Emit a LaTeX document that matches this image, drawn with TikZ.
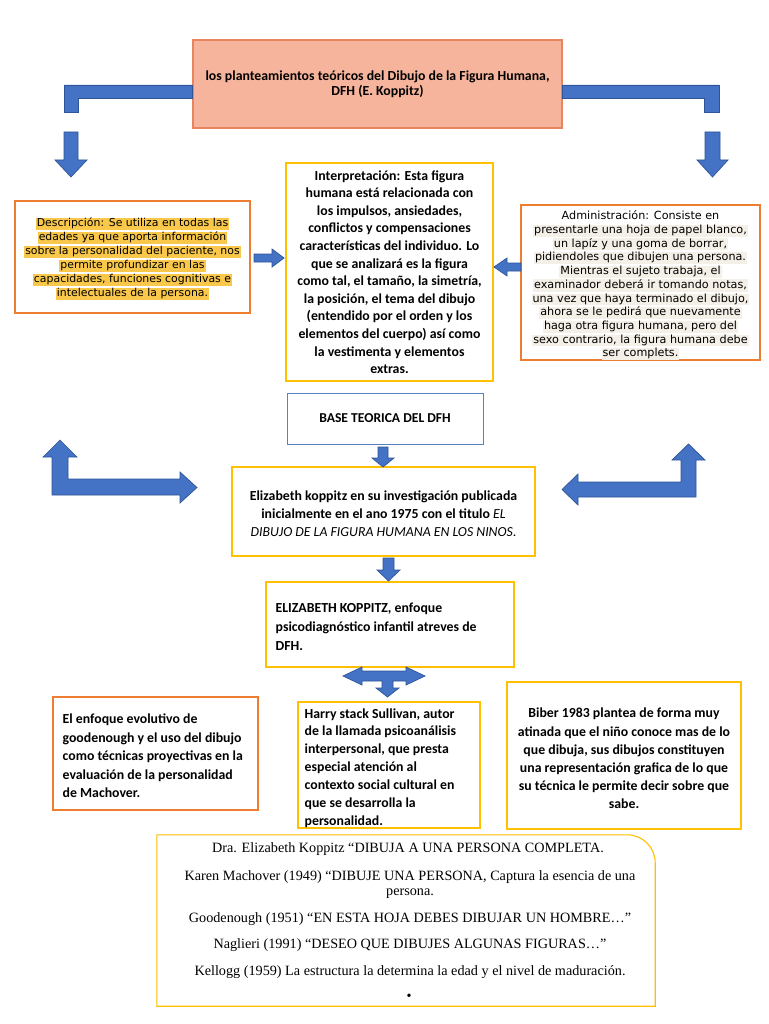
\documentclass[tikz,border=0pt]{standalone}
\usepackage{fontspec}
\setmainfont{Carlito}
\newfontfamily\verd{DejaVu Sans}
\newfontfamily\tnr{Liberation Serif}
\usetikzlibrary{calc}
\definecolor{ablue}{HTML}{4472C4}
\definecolor{aedge}{HTML}{2F5597}
\definecolor{goldc}{HTML}{FFC000}
\definecolor{orng}{HTML}{ED7D31}
\definecolor{salmon}{HTML}{F5B49B}
\definecolor{salmonedge}{HTML}{E8855E}
\definecolor{hlgold}{HTML}{F9C84A}
\definecolor{hlbeige}{HTML}{F4EFE7}
\definecolor{baseblue}{HTML}{5B7FC4}
\newcommand\hlg[1]{{\setlength\fboxsep{0pt}\colorbox{hlgold}{\hspace{1pt}\rule[-3.2pt]{0pt}{10.6pt}#1\hspace{1pt}}}}
\newcommand\hlb[1]{{\setlength\fboxsep{0pt}\colorbox{hlbeige}{\hspace{1pt}\rule[-3.2pt]{0pt}{10.4pt}#1\hspace{1pt}}}}
\begin{document}
\begin{tikzpicture}[x=1pt,y=-1pt,
  box/.style={rectangle, inner sep=0pt, line width=1.1pt, align=center},
  gbox/.style={box, draw=goldc},
  obox/.style={box, draw=orng},
  calbold/.style={font={\fontsize{13.8}{18}\selectfont\bfseries}},
  verdfont/.style={font={\verd\fontsize{10.9}{14}\selectfont}},
  barrow/.style={fill=ablue, draw=aedge, line width=0.7pt, line join=miter},
  btext/.style={inner sep=0pt, font={\tnr\fontsize{14.2}{16}\selectfont}, align=center}]
\useasboundingbox (0,0) rectangle (768,1024);
\fill[white] (0,0) rectangle (768,1024);

% title
\node[box, draw=salmonedge, fill=salmon, minimum width=369pt, minimum height=88pt,
  font={\fontsize{13.8}{15}\selectfont\bfseries}] (title) at (377.5,84)
  {los planteamientos teóricos del Dibujo de la Figura Humana,\\ DFH (E. Koppitz)};

% description
\node[obox, minimum width=235pt, minimum height=112pt, verdfont] (desc) at (132.5,257) {};
\node[inner sep=0pt, align=center, verdfont] (desct) at (132.5,259)
  {\hlg{Descripción: Se utiliza en todas las}\\
   \hlg{edades ya que aporta información}\\
   \hlg{sobre la personalidad del paciente, nos}\\
   \hlg{permite profundizar en las}\\
   \hlg{capacidades, funciones cognitivas e}\\
   \hlg{intelectuales de la persona.}};

% interpretation
\node[gbox, minimum width=207pt, minimum height=218pt, font={\fontsize{13.8}{17.6}\selectfont\bfseries}] (interp) at (389.5,272)
  {Interpretación: Esta figura\\
   humana está relacionada con\\
   los impulsos, ansiedades,\\
   conflictos y compensaciones\\
   características del individuo. Lo\\
   que se analizará es la figura\\
   como tal, el tamaño, la simetría,\\
   la posición, el tema del dibujo\\
   (entendido por el orden y los\\
   elementos del cuerpo) así como\\
   la vestimenta y elementos\\
   extras.};

% administration
\node[obox, minimum width=239pt, minimum height=155pt] (admin) at (640.5,282.5) {};
\node[inner sep=0pt, align=center, font={\verd\fontsize{11.2}{13.7}\selectfont}] (admint) at (640.5,285.5)
  {Administración: Consiste en\\
   \hlb{presentarle una hoja de papel blanco,}\\
   \hlb{un lapíz y una goma de borrar,}\\
   \hlb{pidiendoles que dibujen una persona.}\\
   \hlb{Mientras el sujeto trabaja, el}\\
   \hlb{examinador deberá ir tomando notas,}\\
   \hlb{una vez que haya terminado el dibujo,}\\
   \hlb{ahora se le pedirá que nuevamente}\\
   \hlb{haga otra figura humana, pero del}\\
   \hlb{sexo contrario, la figura humana debe}\\
   \hlb{ser complets.}};

% base teorica
\node[box, draw=baseblue, line width=0.9pt, minimum width=196pt, minimum height=51pt,
  font={\fontsize{13.6}{16}\selectfont\bfseries}] (base) at (385,418.5) {BASE TEORICA DEL DFH};

% Elizabeth
\node[gbox, minimum width=303pt, minimum height=89pt] (eliz) at (383.5,511.5) {};
\node[inner sep=0pt, align=center, calbold] (elizt) at (383.5,514)
  {Elizabeth koppitz en su investigación publicada\\
   inicialmente en el ano 1975 con el titulo {\mdseries\itshape EL}\\
   {\mdseries\itshape DIBUJO DE LA FIGURA HUMANA EN LOS NINOS}{\mdseries .}};

% Koppitz enfoque
\node[gbox, minimum width=248pt, minimum height=85pt] (ek) at (390,624.5) {};
\node[inner sep=0pt, anchor=west, align=left, font={\fontsize{13.8}{19}\selectfont\bfseries}] (ekt) at ([xshift=10pt,yshift=-2pt]ek.west)
  {ELIZABETH KOPPITZ, enfoque\\
   psicodiagnóstico infantil atreves de\\
   DFH.};

% Goodenough
\node[obox, minimum width=205pt, minimum height=113pt] (good) at (155.5,753.5) {};
\node[inner sep=0pt, anchor=west, align=left, font={\fontsize{13.8}{18.5}\selectfont\bfseries}] (goodt) at ([xshift=10pt,yshift=-2.5pt]good.west)
  {El enfoque evolutivo de\\
   goodenough y el uso del dibujo\\
   como técnicas proyectivas en la\\
   evaluación de la personalidad\\
   de Machover.};

% Harry
\node[gbox, minimum width=182pt, minimum height=126pt] (harry) at (389,765) {};
\node[inner sep=0pt, anchor=west, align=left, font={\fontsize{13.8}{17.9}\selectfont\bfseries}] (harryt) at ([xshift=7pt,yshift=-3pt]harry.west)
  {Harry stack Sullivan, autor\\
   de la llamada psicoanálisis\\
   interpersonal, que presta\\
   especial atención al\\
   contexto social cultural en\\
   que se desarrolla la\\
   personalidad.};

% Biber
\node[gbox, minimum width=234pt, minimum height=147pt] (biber) at (624,755.5) {};
\node[inner sep=0pt, align=center, font={\fontsize{13.8}{18.2}\selectfont\bfseries}] (bibert) at (624,758.5)
  {Biber 1983 plantea de forma muy\\
   atinada que el niño conoce mas de lo\\
   que dibuja, sus dibujos constituyen\\
   una representación grafica de lo que\\
   su técnica le permite decir sobre que\\
   sabe.};

% bottom box
\node[inner sep=0pt, minimum width=498pt, minimum height=171pt] (bottom) at (406,920.5) {};
\draw[goldc, line width=1.1pt] (bottom.south west) -- (bottom.north west)
  [rounded corners=28pt] -- (bottom.north east) [sharp corners] -- (bottom.south east) -- cycle;
\node[btext] (b1) at (408,849) {Dra. Elizabeth Koppitz “DIBUJA A UNA PERSONA COMPLETA.};
\node[btext] (b2) at (410,877) {Karen Machover (1949) “DIBUJE UNA PERSONA, Captura la esencia de una};
\node[btext] (b3) at (410,893.5) {persona.};
\node[btext] (b4) at (410,919) {Goodenough (1951) “EN ESTA HOJA DEBES DIBUJAR UN HOMBRE…”};
\node[btext] (b5) at (410,945) {Naglieri (1991) “DESEO QUE DIBUJES ALGUNAS FIGURAS…”};
\node[btext] (b6) at (410,972) {Kellogg (1959) La estructura la determina la edad y el nivel de maduración.};
\node[btext] (b7) at (409,997) {•};

% brackets from title
\draw[barrow] (title.west |- 0,85) -- (64,85) -- (64,112) -- (78,112) -- (78,98) -- (title.west |- 0,98) -- cycle;
\draw[barrow] (title.east |- 0,85) -- (719,85) -- (719,112) -- (704,112) -- (704,98) -- (title.east |- 0,98) -- cycle;
% down arrows
\draw[barrow] (64,132) -- (78,132) -- (78,160) -- (87,160) -- (71,177) -- (55,160) -- (64,160) -- cycle;
\draw[barrow] (705,132) -- (720,132) -- (720,160) -- (728,160) -- (712.5,177) -- (697,160) -- (705,160) -- cycle;

% desc -> interp
\draw[barrow] (254,254) -- (272,254) -- (272,249) -- (284,258) -- (272,267) -- (272,262) -- (254,262) -- cycle;
% admin -> interp
\draw[barrow] (521,263) -- (507,263) -- (507,258) -- (494,267) -- (507,276) -- (507,271) -- (521,271) -- cycle;

% base -> eliz
\draw[barrow] (378,447) -- (388,447) -- (388,458) -- (394,458) -- (383,467) -- (372,458) -- (378,458) -- cycle;
% eliz -> ek
\draw[barrow] (383,558) -- (394,558) -- (394,570) -- (400,570) -- (388.5,581) -- (377,570) -- (383,570) -- cycle;

% left bent arrow
\draw[barrow] (60,440) -- (77,457) -- (68,457) -- (68,479) -- (180,479) -- (180,472) -- (197,487.5)
  -- (180,503) -- (180,495) -- (52,495) -- (52,457) -- (43,457) -- cycle;
% right bent arrow
\draw[barrow] (688.5,444) -- (705,460) -- (696,460) -- (696,497) -- (578,497) -- (578,505) -- (562,489.5)
  -- (578,474) -- (578,482) -- (681,482) -- (681,460) -- (672,460) -- cycle;

% T arrow under ek
\draw[barrow] (343,676) -- (362,667) -- (362,671) -- (406,671) -- (406,667) -- (425,676) -- (406,685)
  -- (406,681) -- (393,681) -- (393,688) -- (399,688) -- (387.5,697) -- (376,688) -- (382,688)
  -- (382,681) -- (362,681) -- (362,685) -- cycle;
\end{tikzpicture}
\end{document}
